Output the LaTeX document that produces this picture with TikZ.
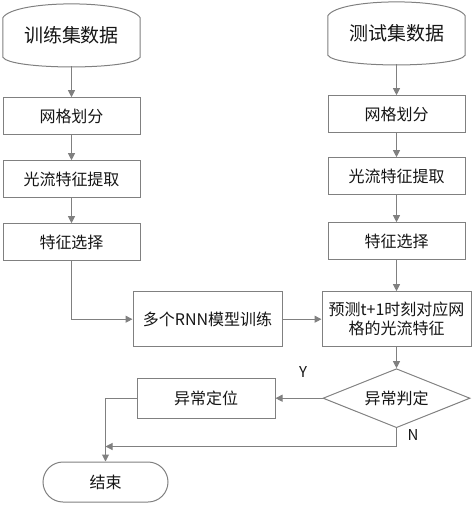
\documentclass[tikz,border=0pt]{standalone}
\usepackage{fontspec}
\setmainfont{Noto Sans CJK SC}
\usetikzlibrary{arrows.meta,positioning,shapes.geometric}
\definecolor{linegray}{HTML}{808080}
\definecolor{textdark}{HTML}{151515}

\begin{document}
\begin{tikzpicture}[
    x=1pt, y=-1pt,
    node distance=25pt and 39pt,
    startbox/.style={minimum width=137pt, minimum height=61pt, inner sep=0pt, text=textdark, font=\fontsize{19}{22}\selectfont},
    procbox/.style={rectangle, draw=linegray, line width=1pt, minimum width=137pt, minimum height=37pt, inner sep=0pt, text=textdark, font=\fontsize{16}{19}\selectfont},
    widebox/.style={procbox, minimum width=149pt, minimum height=55pt, align=center},
    decision/.style={diamond, draw=linegray, line width=1pt, minimum width=147pt, minimum height=59pt, inner sep=0pt, aspect=2.5, text=textdark, font=\fontsize{16}{19}\selectfont},
    endbox/.style={rectangle, rounded corners=20pt, draw=linegray, line width=1pt, minimum width=125pt, minimum height=40pt, text=textdark, font=\fontsize{16}{19}\selectfont},
    arr/.style={-{Triangle[length=7pt,width=7pt]}, draw=linegray, line width=1pt},
    label style/.style={text=textdark, font=\fontsize{15}{18}\selectfont}
  ]
  \useasboundingbox (0,0) rectangle (474,507);

  %% Training branch
  \node[startbox] (train) at (71.5,35.5) {训练集数据};
  \node[procbox, below=31pt of train] (grid1) {网格划分};
  \node[procbox, below=of grid1] (flow1) {光流特征提取};
  \node[procbox, below=of flow1] (sel1) {特征选择};

  %% Test branch
  \node[startbox] (test) at (396.5,33.5) {测试集数据};
  \node[procbox, below=31pt of test] (grid2) {网格划分};
  \node[procbox, below=24pt of grid2] (flow2) {光流特征提取};
  \node[procbox, below=27pt of flow2] (sel2) {特征选择};

  %% Prediction and model
  \node[widebox, below=31pt of sel2] (pred) {预测t+1时刻对应网\\格的光流特征};
  \node[widebox, left=39pt of pred] (rnn) {多个RNN模型训练};

  %% Decision
  \node[decision, below=21pt of pred] (judge) {异常判定};
  \node[procbox, minimum width=138pt, minimum height=40pt, left=47pt of judge] (loc) {异常定位};

  %% End
  \node[endbox] (stop) at (105.5,482) {结束};
  \coordinate[above=15pt of stop] (join);

  %% Outlines of the two data shapes
  \foreach \n in {train,test}
    \draw[linegray, line width=1pt]
      ([yshift=-13pt]\n.north west) to[out=60, in=120, looseness=0.4] ([yshift=-13pt]\n.north east)
      -- ([yshift=9pt]\n.south east) to[out=-120, in=-60, looseness=0.28] ([yshift=9pt]\n.south west) -- cycle;

  %% Arrows
  \draw[arr] (train) -- (grid1);
  \draw[arr] (grid1) -- (flow1);
  \draw[arr] (flow1) -- (sel1);
  \draw[arr] (test) -- (grid2);
  \draw[arr] (grid2) -- (flow2);
  \draw[arr] (flow2) -- (sel2);
  \draw[arr] (sel2) -- (pred);
  \draw[arr] (sel1) |- (rnn.west);
  \draw[arr] (rnn) -- (pred);
  \draw[arr] (pred) -- (judge);
  \draw[arr] (judge.west) -- (loc.east);
  \draw[arr] (loc.west) -| (stop.north);
  \draw[arr] (judge.south) |- (join);

  %% Branch labels
  \node[label style] (ymark) at (303,372) {Y};
  \node[label style] (nmark) at (413,435) {N};

\end{tikzpicture}
\end{document}
